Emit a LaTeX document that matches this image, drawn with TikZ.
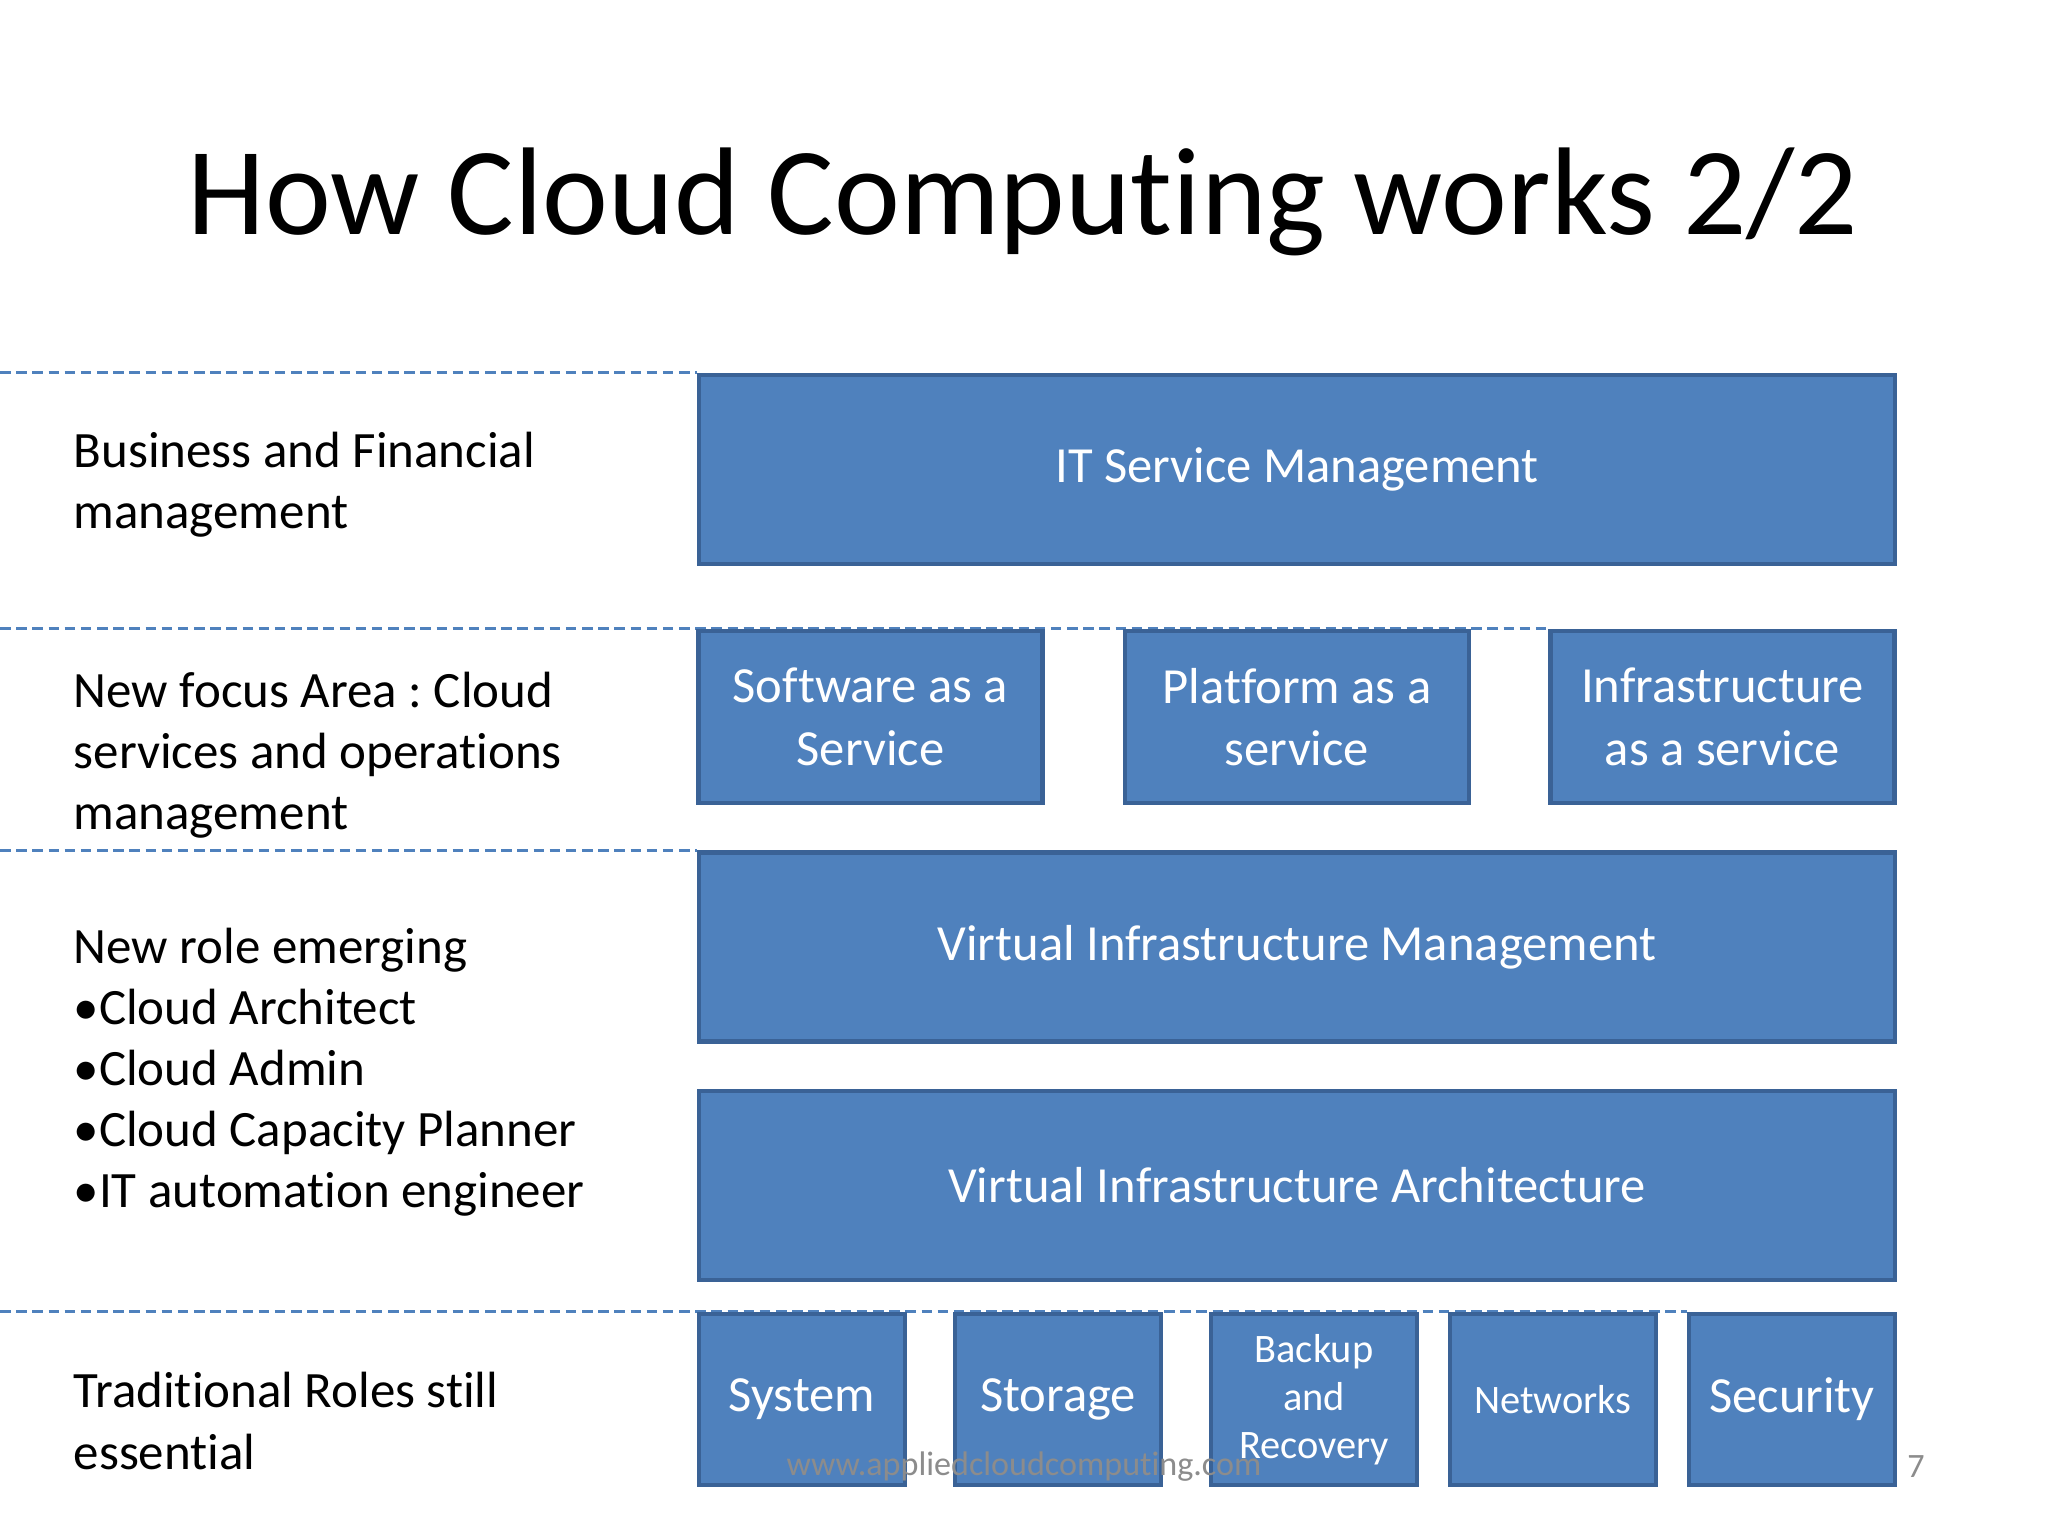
\documentclass[tikz,border=0pt]{standalone}
\usepackage{fontspec}
\setmainfont{Carlito}[Ligatures=NoCommon]
\usetikzlibrary{positioning,calc,backgrounds}
\definecolor{tileblue}{HTML}{4F81BD}
\definecolor{tileedge}{HTML}{3A6296}
\definecolor{footgray}{HTML}{8C8C8C}
\frenchspacing

\begin{document}
\begin{tikzpicture}[
    tile/.style={draw=tileedge, line width=1.3pt, fill=tileblue, text=white, align=center,
        font=\fontsize{14.4}{17.8}\selectfont, inner sep=2pt},
    widetile/.style={tile, minimum width=11.96cm, minimum height=1.89cm},
    midtile/.style={tile, minimum width=3.44cm, minimum height=1.72cm},
    smalltile/.style={tile, minimum width=2.06cm, minimum height=1.71cm},
    roletext/.style={anchor=west, align=left, inner sep=0pt, font=\fontsize{14.5}{17.4}\selectfont},
    sepline/.style={draw=tileblue, line width=0.8pt, dash pattern=on 3pt off 1.6pt}
]
\useasboundingbox (0,0) rectangle (20.48,-15.36);

\node[anchor=base, font=\fontsize{35.5}{42}\selectfont] (title) at (10.23,-2.35) {How Cloud Computing works 2/2};

\node[widetile] (itsm) at (12.97,-4.695) {IT Service Management};
\node[midtile] (saas) at (8.705,-7.17) {Software as a\\Service};
\node[midtile] (paas) at (12.97,-7.17) {Platform as a\\service};
\node[midtile] (iaas) at (17.225,-7.17) {Infrastructure\\as a service};
\node[widetile] (vim) at (12.97,-9.47) {Virtual Infrastructure Management};
\node[widetile] (via) at (12.97,-11.855) {Virtual Infrastructure Architecture};

\node[smalltile] (system) at (8.02,-13.995) {System};
\node[smalltile] (storage) at (10.58,-13.995) {Storage};
\node[smalltile, font=\fontsize{11.5}{13.7}\selectfont] (backup) at (13.14,-13.995) {Backup\\and\\Recovery};
\node[smalltile, font=\fontsize{11.5}{13.7}\selectfont] (networks) at (15.53,-13.995) {Networks};
\node[smalltile] (security) at (17.92,-13.995) {Security};

\node[roletext] (business) at (0.73,-4.85) {Business and Financial\\management};
\node[roletext] (focus) at (0.73,-7.55) {New focus Area : Cloud\\services and operations\\management};
\node[roletext] (roles) at (0.73,-10.72) {New role emerging\\\textbullet Cloud Architect\\\textbullet Cloud Admin\\\textbullet Cloud Capacity Planner\\\textbullet IT automation engineer};
\node[roletext] (tradition) at (0.73,-14.21) {Traditional Roles still\\essential};

\node[text=footgray, font=\fontsize{9.7}{12}\selectfont] (site) at (10.24,-14.67) {www.appliedcloudcomputing.com};
\node[text=footgray, font=\fontsize{9.7}{12}\selectfont] (page) at (19.16,-14.67) {7};

\begin{scope}[on background layer]
\fill[white] (0,0) rectangle (20.48,-15.36);
\draw[sepline] (0,0 |- itsm.north west) -- (itsm.north west);
\draw[sepline] (0,0 |- iaas.north west) -- (iaas.north west);
\draw[sepline] (0,0 |- vim.north west) -- (vim.north west);
\draw[sepline] (0,0 |- security.north west) -- (security.north west);
\end{scope}
\end{tikzpicture}
\end{document}
